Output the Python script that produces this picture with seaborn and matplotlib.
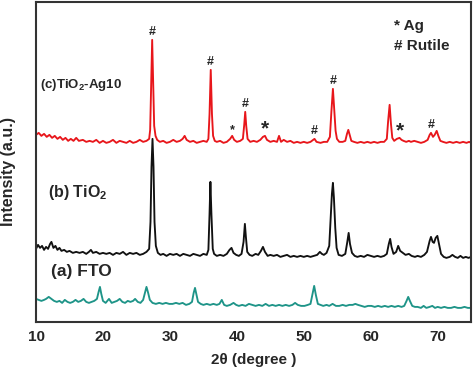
import matplotlib
matplotlib.use("Agg")
import matplotlib.pyplot as plt
import numpy as np
import pandas as pd
import seaborn as sns

sns.set_style("white")
plt.rcParams["font.family"] = ["Liberation Sans", "DejaVu Sans"]
plt.rcParams["mathtext.fontset"] = "custom"
plt.rcParams["mathtext.rm"] = "Liberation Sans:bold"
plt.rcParams["mathtext.bf"] = "Liberation Sans:bold"
plt.rcParams["mathtext.default"] = "bf"

# XRD traces, stacked intensity (a.u.)
red_2theta = [10.0, 10.4, 10.8, 11.2, 11.6, 12.0, 12.4, 12.8, 13.2, 13.6, 14.0, 14.4, 14.8, 15.2, 15.6,
              16.0, 16.4, 17.0, 17.5, 18.0, 18.5, 19.0, 19.5, 20.0, 20.5, 21.0, 21.5, 22.0, 22.5, 23.0,
              23.5, 24.0, 24.5, 25.0, 25.5, 26.0, 26.5, 26.9, 27.05, 27.2, 27.35, 27.5, 27.65, 27.85, 28.1,
              28.5, 29.0, 29.5, 30.0, 30.5, 31.0, 31.5, 31.9, 32.2, 32.5, 33.0, 33.5, 34.0, 34.5, 35.0,
              35.5, 35.75, 35.92, 36.1, 36.28, 36.45, 36.7, 37.0, 37.5, 38.0, 38.5, 39.0, 39.3, 39.6, 40.0,
              40.5, 40.9, 41.1, 41.25, 41.4, 41.6, 42.0, 42.5, 43.0, 43.5, 43.9, 44.2, 44.5, 45.0, 45.5,
              46.0, 46.3, 46.6, 47.0, 47.5, 48.0, 48.5, 49.0, 49.5, 50.0, 50.5, 51.0, 51.4, 51.6, 51.9,
              52.5, 53.0, 53.5, 53.9, 54.12, 54.35, 54.55, 54.75, 54.95, 55.3, 55.8, 56.2, 56.45, 56.65, 56.85,
              57.1, 57.5, 58.0, 58.5, 59.0, 59.5, 60.0, 60.5, 61.0, 61.5, 62.0, 62.4, 62.6, 62.82, 63.02,
              63.22, 63.5, 63.9, 64.3, 64.6, 64.9, 65.3, 65.7, 66.0, 66.5, 67.0, 67.5, 68.0, 68.5, 68.8,
              69.0, 69.3, 69.55, 69.85, 70.1, 70.4, 70.8, 71.3, 71.8, 72.3, 72.8, 73.3, 73.8, 74.3, 74.7,
              75.0]
red_intensity = [187, 189, 186, 188, 185, 187, 184, 186, 183, 185, 182, 184, 181, 183, 181,
                 184, 181, 182, 180, 181, 180, 182, 179, 181, 179, 180, 182, 179, 181, 180,
                 179, 181, 179, 180, 182, 180, 181, 183, 192, 235, 282, 238, 196, 186, 182,
                 180, 181, 179, 180, 182, 180, 181, 183, 186, 182, 180, 181, 179, 180, 181,
                 180, 183, 208, 252, 208, 186, 181, 180, 181, 179, 180, 183, 186, 182, 180,
                 181, 183, 197, 210, 196, 183, 180, 181, 180, 182, 185, 186, 182, 180, 181,
                 180, 186, 180, 182, 180, 181, 179, 180, 179, 180, 179, 180, 182, 183, 180,
                 179, 180, 180, 185, 210, 233, 212, 191, 183, 180, 180, 181, 188, 192, 187,
                 181, 180, 179, 180, 179, 180, 179, 180, 179, 180, 180, 183, 201, 217, 198,
                 184, 181, 183, 184, 182, 181, 180, 181, 180, 181, 180, 179, 180, 182, 187,
                 189, 185, 187, 191, 186, 181, 180, 179, 180, 179, 180, 179, 180, 179, 180,
                 179]

black_2theta = [10.0, 10.3, 10.6, 10.9, 11.2, 11.5, 11.8, 12.1, 12.3, 12.6, 12.9, 13.2, 13.5, 13.8, 14.2,
                14.6, 15.0, 15.5, 16.0, 16.5, 17.0, 17.5, 17.9, 18.2, 18.5, 19.0, 19.5, 20.0, 20.5, 21.0,
                21.5, 22.0, 22.5, 23.0, 23.5, 24.0, 24.5, 25.0, 25.5, 26.0, 26.5, 26.9, 27.1, 27.25, 27.4,
                27.55, 27.7, 27.9, 28.2, 28.6, 29.0, 29.5, 30.0, 30.5, 31.0, 31.5, 32.0, 32.5, 33.0, 33.5,
                34.0, 34.5, 35.0, 35.5, 35.75, 35.92, 36.05, 36.2, 36.4, 36.6, 37.0, 37.5, 38.0, 38.5, 38.9,
                39.2, 39.5, 39.9, 40.3, 40.7, 41.0, 41.2, 41.35, 41.55, 41.9, 42.3, 42.8, 43.2, 43.6, 43.9,
                44.2, 44.6, 45.0, 45.5, 46.0, 46.5, 47.0, 47.5, 48.0, 48.5, 49.0, 49.5, 50.0, 50.5, 51.0,
                51.5, 52.0, 52.4, 52.7, 53.0, 53.4, 53.8, 54.0, 54.2, 54.35, 54.5, 54.7, 54.9, 55.2, 55.7,
                56.2, 56.5, 56.7, 56.9, 57.2, 57.6, 58.0, 58.5, 59.0, 59.5, 60.0, 60.5, 61.0, 61.5, 62.0,
                62.4, 62.7, 62.9, 63.1, 63.4, 63.8, 64.1, 64.4, 64.8, 65.2, 65.7, 66.1, 66.6, 67.0, 67.5,
                68.0, 68.4, 68.8, 69.0, 69.25, 69.45, 69.7, 69.95, 70.2, 70.5, 70.9, 71.3, 71.8, 72.2, 72.6,
                73.0, 73.4, 73.8, 74.2, 74.6, 75.0]
black_intensity = [73, 77, 74, 76, 72, 75, 73, 78, 80, 74, 76, 72, 74, 71, 72,
                   70, 71, 69, 70, 69, 70, 68, 70, 72, 69, 70, 68, 69, 68, 69,
                   67, 69, 68, 70, 67, 69, 68, 69, 67, 68, 70, 73, 100, 155, 183,
                   155, 100, 76, 69, 67, 68, 66, 68, 67, 68, 66, 68, 67, 66, 68,
                   67, 66, 68, 67, 72, 108, 140, 108, 73, 68, 66, 67, 66, 68, 72,
                   74, 69, 67, 66, 68, 80, 98, 85, 70, 67, 66, 68, 67, 71, 75,
                   70, 66, 67, 66, 67, 65, 66, 67, 65, 66, 65, 66, 65, 66, 65,
                   66, 67, 70, 68, 67, 69, 76, 102, 128, 139, 124, 94, 74, 67, 66,
                   68, 80, 89, 78, 69, 66, 65, 66, 65, 67, 66, 65, 66, 65, 66,
                   68, 78, 83, 75, 68, 70, 76, 71, 69, 67, 68, 66, 65, 66, 65,
                   67, 70, 81, 85, 80, 79, 84, 86, 78, 68, 65, 64, 65, 67, 65,
                   64, 66, 64, 65, 64, 65]

teal_2theta = [10.0, 10.4, 10.8, 11.2, 11.5, 11.9, 12.3, 12.7, 13.1, 13.5, 13.9, 14.3, 14.7, 15.1, 15.5,
               15.9, 16.3, 16.7, 17.1, 17.5, 17.9, 18.3, 18.7, 19.1, 19.35, 19.55, 19.75, 20.0, 20.4, 20.9,
               21.3, 21.7, 22.1, 22.5, 22.9, 23.3, 23.7, 24.1, 24.5, 24.8, 25.2, 25.6, 26.0, 26.3, 26.5,
               26.75, 27.0, 27.4, 27.9, 28.4, 28.9, 29.4, 29.9, 30.4, 30.9, 31.4, 31.9, 32.4, 32.9, 33.3,
               33.55, 33.75, 33.95, 34.2, 34.6, 35.0, 35.5, 36.0, 36.5, 37.0, 37.4, 37.75, 38.1, 38.5, 39.0,
               39.5, 39.9, 40.3, 40.8, 41.3, 41.8, 42.3, 42.8, 43.3, 43.8, 44.3, 44.8, 45.3, 45.8, 46.3,
               46.8, 47.3, 47.8, 48.3, 48.7, 49.1, 49.6, 50.1, 50.6, 51.0, 51.3, 51.55, 51.8, 52.1, 52.5,
               52.9, 53.4, 53.8, 54.3, 54.8, 55.3, 55.8, 56.3, 56.8, 57.3, 57.7, 58.1, 58.6, 59.1, 59.6,
               60.1, 60.6, 61.1, 61.6, 62.1, 62.6, 63.1, 63.6, 64.1, 64.6, 65.0, 65.35, 65.6, 65.85, 66.2,
               66.6, 67.0, 67.5, 67.9, 68.3, 68.8, 69.2, 69.6, 70.0, 70.5, 71.0, 71.5, 72.0, 72.5, 73.0,
               73.5, 74.0, 74.5, 75.0]
teal_intensity = [23, 22, 21, 22, 23, 25, 23, 21, 20, 21, 19, 22, 20, 19, 20,
                  22, 20, 21, 23, 20, 19, 20, 21, 23, 30, 35, 28, 21, 19, 23,
                  19, 20, 21, 23, 20, 19, 21, 20, 21, 23, 20, 19, 22, 30, 35,
                  29, 22, 19, 18, 19, 18, 19, 18, 18, 19, 18, 19, 17, 18, 20,
                  29, 34, 28, 20, 18, 17, 18, 17, 18, 17, 18, 22, 17, 16, 17,
                  19, 17, 16, 17, 16, 18, 17, 16, 17, 16, 18, 16, 17, 16, 17,
                  16, 17, 16, 17, 19, 17, 16, 16, 17, 18, 28, 36, 27, 18, 17,
                  16, 17, 16, 18, 16, 16, 17, 16, 17, 17, 18, 17, 16, 15, 16,
                  16, 15, 16, 15, 16, 15, 16, 15, 16, 15, 16, 21, 25, 21, 16,
                  15, 15, 14, 16, 14, 15, 16, 14, 15, 14, 15, 14, 14, 15, 14,
                  14, 15, 14, 14]

sample_names = ["(c)TiO$_2$-Ag10", "(b) TiO$_2$", "(a) FTO"]
rutile_peaks = [27.35, 36.1, 41.25, 51.6, 54.35, 69.0]
ag_peaks = [39.3, 44.2, 64.3]

df = pd.concat([
    pd.DataFrame({"two_theta": red_2theta, "intensity": red_intensity, "sample": "c"}),
    pd.DataFrame({"two_theta": black_2theta, "intensity": black_intensity, "sample": "b"}),
    pd.DataFrame({"two_theta": teal_2theta, "intensity": teal_intensity, "sample": "a"}),
])
palette = {"c": "#e8161b", "b": "#111111", "a": "#1e9488"}

fig = plt.figure(figsize=(4.74, 3.70), dpi=100)
ax = fig.add_axes([0.076, 0.130, 0.918, 0.865])
sns.lineplot(data=df, x="two_theta", y="intensity", hue="sample", palette=palette,
             estimator=None, sort=False, linewidth=1.35, legend=False, ax=ax)

ax.set_xlim(10, 75)
ax.set_ylim(0, 320)
ax.set_xticks([10, 20, 30, 40, 50, 60, 70])
ax.set_yticks([])
ax.tick_params(axis="x", direction="out", length=3.6, width=1.1, labelsize=11, pad=2)
for lbl in ax.get_xticklabels():
    lbl.set_fontweight("bold")
for sp in ax.spines.values():
    sp.set_linewidth(1.5)
    sp.set_color("#333333")
ax.set_xlabel("2θ (degree )", fontsize=11, fontweight="bold", labelpad=7)
ax.set_ylabel("Intensity (a.u.)", fontsize=11.5, fontweight="bold")
ax.yaxis.set_label_coords(-0.045, 0.47)

# peak markers placed on the red trace
for p in rutile_peaks:
    y = np.interp(p, red_2theta, red_intensity)
    ax.annotate("#", xy=(p, y), xytext=(0, 1.5), textcoords="offset points",
                ha="center", va="bottom", fontsize=9, fontweight="bold")
for p, fs in zip(ag_peaks, [9, 15, 15]):
    y = np.interp(p, red_2theta, red_intensity)
    ax.annotate("*", xy=(p, y), xytext=(0, -2 if fs > 10 else 0), textcoords="offset points",
                ha="center", va="bottom", fontsize=fs, fontweight="bold")

# sample labels
ax.text(10.6, 237, sample_names[0], fontsize=9.5, fontweight="bold", va="center")
ax.text(11.8, 129, sample_names[1], fontsize=11.5, fontweight="bold", va="center")
ax.text(12.2, 50, sample_names[2], fontsize=12.5, fontweight="bold", va="center")

ax.text(63.4, 296, "* Ag", fontsize=11, fontweight="bold", va="center")
ax.text(63.4, 276, "# Rutile", fontsize=11, fontweight="bold", va="center")

fig.savefig("out.png", dpi=100)
